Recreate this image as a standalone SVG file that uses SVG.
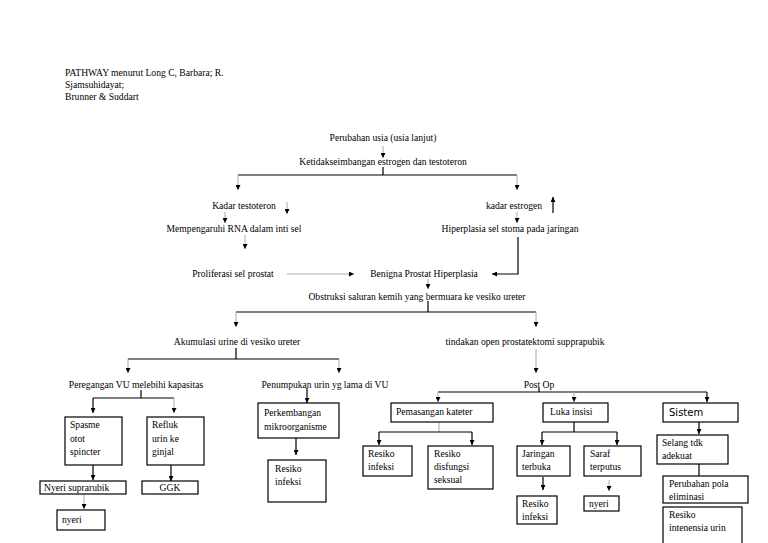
<svg xmlns="http://www.w3.org/2000/svg" width="768" height="543" viewBox="0 0 768 543">
<defs>
<marker id="ah" viewBox="0 0 6 6" refX="6" refY="3" markerWidth="5" markerHeight="5" orient="auto" markerUnits="userSpaceOnUse"><path d="M0,0 L6,3 L0,6 z" fill="#000"/></marker>
</defs>
<style>
text{font-family:"Liberation Serif","Times New Roman",serif;font-size:9.6px;fill:#000}
.c{text-anchor:middle}
.s{font-family:"DejaVu Sans","Liberation Sans",sans-serif;font-size:10px}
rect{fill:#fff;stroke:#000;stroke-width:1.2}
.k{fill:none;stroke:#000;stroke-width:1.2}
.g{fill:none;stroke:#aaa;stroke-width:1}
.a{marker-end:url(#ah)}
</style>
<rect x="0" y="0" width="768" height="543" style="stroke:none"/>
<g id="header">
<text x="65" y="76">PATHWAY menurut  Long C, Barbara; R.</text>
<text x="65" y="88">Sjamsuhidayat;</text>
<text x="65" y="100">Brunner &amp; Suddart</text>
</g>
<g id="connectors">
<path class="g a" d="M383,146 V158"/>
<path class="k" d="M383,167 V175 M238,175 H517"/>
<path class="g a" d="M238,175 V190"/>
<path class="g a" d="M517,175 V190"/>
<path class="g a" d="M287,202 V214"/>
<path class="g a" d="M225,212 V223"/>
<path class="g a" d="M245,235 V249"/>
<path class="k a" d="M553,213 V197"/>
<path class="g a" d="M517,212 V223"/>
<path class="k a" d="M518,237 V274 H492"/>
<path class="g a" d="M287,274 H354"/>
<path class="g a" d="M428,279 V289"/>
<path class="k" d="M428,301 V312 M236,312 H536"/>
<path class="g a" d="M236,312 V327"/>
<path class="g a" d="M536,312 V327"/>
<path class="k" d="M236,348 V359 M128,359 H339"/>
<path class="g a" d="M128,359 V373"/>
<path class="g a" d="M339,359 V373"/>
<path class="g a" d="M536,349 V373"/>
<path class="k" d="M141,390 V398 M93,398 H174"/>
<path class="k a" d="M93,398 V413"/>
<path class="g a" d="M174,398 V413"/>
<path class="k a" d="M93,465 V480"/>
<path class="k a" d="M171,465 V481"/>
<path class="g a" d="M84,494 V509"/>
<path class="k a" d="M307,388 V403"/>
<path class="k a" d="M296,438 V455"/>
<path class="k" d="M539,388 V392 M438,392 H707"/>
<path class="g a" d="M438,392 V402"/>
<path class="g a" d="M574,392 V402"/>
<path class="k a" d="M707,392 V402"/>
<path class="g" d="M439,422 V432"/>
<path class="k" d="M379,432 H472"/>
<path class="k a" d="M379,432 V445"/>
<path class="k a" d="M472,432 V445"/>
<path class="k" d="M574,422 V432 M542,432 H617"/>
<path class="k a" d="M542,432 V445"/>
<path class="k a" d="M617,432 V445"/>
<path class="k a" d="M543,477 V490"/>
<path class="g a" d="M609,480 V491"/>
<path class="k a" d="M699,422 V434"/>
<path class="k" d="M699,464 V476"/>
</g>
<g id="n1"><text class="c" x="383" y="141">Perubahan usia (usia lanjut)</text></g>
<g id="n2"><text class="c" x="383" y="165">Ketidakseimbangan estrogen dan testoteron</text></g>
<g id="n3"><text class="c" x="244" y="209">Kadar testoteron</text></g>
<g id="n4"><text class="c" x="234" y="232">Mempengaruhi RNA dalam inti sel</text></g>
<g id="n5"><text class="c" x="514" y="209">kadar estrogen</text></g>
<g id="n6"><text class="c" x="510" y="232">Hiperplasia sel stoma pada jaringan</text></g>
<g id="n7"><text class="c" x="233" y="277">Proliferasi sel prostat</text></g>
<g id="n8"><text class="c" x="424" y="277">Benigna Prostat Hiperplasia</text></g>
<g id="n9"><text class="c" x="417" y="300">Obstruksi saluran kemih yang bermuara ke vesiko ureter</text></g>
<g id="n10"><text class="c" x="237" y="345">Akumulasi urine di vesiko ureter</text></g>
<g id="n11"><text class="c" x="525" y="345">tindakan open prostatektomi supprapubik</text></g>
<g id="n12"><text class="c" x="136" y="388">Peregangan VU melebihi kapasitas</text></g>
<g id="n13"><text class="c" x="325" y="388">Penumpukan urin yg lama di VU</text></g>
<g id="n14"><text class="c" x="539" y="388">Post Op</text></g>
<g id="n15"><rect x="65" y="417" width="57" height="48"/><text x="70" y="428">Spasme</text><text x="70" y="442">otot</text><text x="70" y="455">spincter</text></g>
<g id="n16"><rect x="147" y="417" width="57" height="48"/><text x="152" y="428">Refluk</text><text x="152" y="442">urin ke</text><text x="152" y="455">ginjal</text></g>
<g id="n17"><rect x="40" y="481" width="86" height="13"/><text x="44" y="491">Nyeri suprarubik</text></g>
<g id="n18"><rect x="142" y="481" width="56" height="13"/><text class="c" x="170" y="491">GGK</text></g>
<g id="n19"><rect x="57" y="510" width="48" height="20"/><text x="62" y="523">nyeri</text></g>
<g id="n20"><rect x="258" y="403" width="81" height="35"/><text x="264" y="416">Perkembangan</text><text x="264" y="430">mikroorganisme</text></g>
<g id="n21"><rect x="268" y="460" width="58" height="42"/><text x="275" y="472">Resiko</text><text x="275" y="485">infeksi</text></g>
<g id="n22"><rect x="391" y="403" width="102" height="19"/><text x="396" y="415">Pemasangan kateter</text></g>
<g id="n23"><rect x="543" y="403" width="65" height="19"/><text x="550" y="415">Luka insisi</text></g>
<g id="n24"><rect x="663" y="403" width="75" height="19"/><text class="s" x="669" y="416">Sistem</text></g>
<g id="n25"><rect x="363" y="446" width="49" height="30"/><text x="368" y="457">Resiko</text><text x="368" y="470">infeksi</text></g>
<g id="n26"><rect x="428" y="446" width="65" height="43"/><text x="434" y="457">Resiko</text><text x="434" y="470">disfungsi</text><text x="434" y="483">seksual</text></g>
<g id="n27"><rect x="517" y="446" width="53" height="30"/><text x="522" y="457">Jaringan</text><text x="522" y="470">terbuka</text></g>
<g id="n28"><rect x="584" y="446" width="57" height="30"/><text x="590" y="457">Saraf</text><text x="590" y="470">terputus</text></g>
<g id="n29"><rect x="517" y="496" width="40" height="28"/><text x="522" y="507">Resiko</text><text x="522" y="520">infeksi</text></g>
<g id="n30"><rect x="584" y="496" width="35" height="15"/><text x="589" y="507">nyeri</text></g>
<g id="n31"><rect x="657" y="435" width="71" height="29"/><text x="662" y="446">Selang tdk</text><text x="662" y="459">adekuat</text></g>
<g id="n32"><rect x="663" y="476" width="85" height="27"/><text x="669" y="487">Perubahan pola</text><text x="669" y="500">eliminasi</text></g>
<g id="n33"><rect x="663" y="507" width="79" height="40"/><text x="669" y="518">Resiko</text><text x="669" y="531">intenensia urin</text></g>
</svg>
